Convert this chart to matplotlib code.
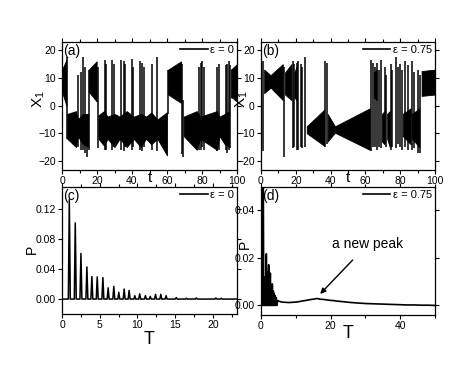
import matplotlib
matplotlib.use("Agg")
import matplotlib.pyplot as plt
from matplotlib.ticker import MultipleLocator

plt.rcParams['font.family'] = ['Liberation Sans', 'DejaVu Sans']
plt.rcParams['mathtext.fontset'] = 'custom'
plt.rcParams['mathtext.rm'] = 'Liberation Sans'
plt.rcParams['mathtext.it'] = 'Liberation Sans:italic'

# ---------------- data ----------------
# (a) eps = 0 : dense oscillation bands (t, lower, upper) and wing-switch spikes (t, low, high)
bands_a = [
    [(0.0, 5.0, 13.0), (2.5, 0.0, 16.5)],
    [(3.0, -12.0, -3.0), (8.0, -15.0, -2.0), (9.0, -11.0, -5.0), (12.0, -14.0, -3.0),
     (15.0, -15.0, -3.0)],
    [(15.3, 5.0, 13.0), (19.8, 1.5, 16.0)],
    [(20.8, -12.0, -3.5), (24.0, -14.5, -2.0), (26.0, -12.0, -4.0), (30.0, -15.0, -3.0),
     (33.0, -12.0, -4.0), (37.0, -15.0, -2.0), (41.0, -12.0, -4.0), (45.0, -15.0, -3.0),
     (48.0, -12.0, -4.0), (51.0, -14.0, -2.5), (54.5, -12.0, -5.0), (60.0, -18.0, -2.4)],
    [(60.6, 4.0, 13.0), (68.0, 1.0, 16.0)],
    [(69.5, -11.0, -4.0), (77.0, -16.0, -2.0), (79.0, -12.0, -4.0), (88.5, -16.0, -2.0),
     (90.0, -11.0, -4.0), (93.0, -14.0, -3.0), (95.5, -15.0, -2.0)],
    [(96.5, 3.0, 13.0), (100.0, 2.0, 15.0)],
]
spikes_a = [
    (2.8, -12, 17.5), (9.3, -15, 11), (10.7, -16, 12), (11.8, -16, 17.5),
    (13.3, -17, 14), (14.1, -18.5, -3), (15.2, -16, 13), (20.3, -15.5, 14),
    (24.5, -16, 16.5), (25.3, -16, 15), (28.8, -16, 16.5), (29.5, -15, 15),
    (33.8, -16, 16.5), (35.2, -16.5, 16), (36.2, -15, 15), (40.0, -16, 17),
    (40.8, -15, 14), (44.8, -16, 16), (45.8, -16.5, 15.5), (46.8, -15, 14),
    (51.5, -16, 15), (54.0, -16.5, 17.5), (60.3, -3, 13), (68.5, -17.5, 15),
    (69.0, -18.5, 2), (78.0, -16, 14), (79.2, -16, 15.5), (80.2, -15, 16),
    (81.0, -16, 14), (88.8, -16.5, 14), (89.5, -16, 15), (93.5, -16, 14.5),
    (94.3, -17, 15), (95.3, -16, 16), (96.2, -15.5, 14.5),
]

# (b) eps = 0.75
bands_b = [
    [(1.8, 4.5, 13.0), (5.5, 6.5, 11.0), (12.5, 2.0, 15.0)],
    [(13.8, 4.0, 12.0), (17.5, 2.0, 15.0)],
    [(19.2, 3.0, 12.0), (20.3, 2.0, 14.0)],
    [(26.3, -10.0, -7.5), (36.3, -14.5, -1.5)],
    [(38.3, -13.0, -3.0), (42.5, -9.8, -7.5), (62.5, -16.0, -1.0)],
    [(64.8, 3.0, 12.0), (66.5, 2.0, 13.0)],
    [(69.5, -13.0, -3.0), (71.0, -14.0, -2.0)],
    [(72.5, -12.0, -3.0), (74.0, -15.0, -2.0)],
    [(81.5, -11.0, -3.0), (86.0, -14.0, -1.0)],
    [(86.8, -12.0, -3.0), (91.0, -15.0, -1.0)],
    [(92.3, 3.5, 12.5), (100.0, 4.0, 13.0)],
]
spikes_b = [
    (1.0, -16.5, 16), (13.2, -18.5, 14), (18.3, -15.5, 16), (19.0, -15, 15),
    (20.5, -16, 15.5), (21.5, -16, 16), (22.8, -15, 15), (23.5, -15.5, 14),
    (25.3, -15, 17.5), (36.8, -15, 16), (37.8, -14, 15.5), (63.0, -16.5, 16.5),
    (64.5, -15, 15.5), (65.5, -15, 14), (66.8, -16, 15.5), (68.0, -15, 13),
    (69.2, -15.5, 16.5), (71.0, -14, 14), (72.0, -15, 11), (74.5, -16, 15),
    (75.5, -15, 13), (77.5, -15.5, 17.5), (78.5, -14, 14), (80.0, -15, 15),
    (81.0, -16, 13), (83.0, -15, 16), (84.2, -16, 14.5), (86.5, -16, 16),
    (88.0, -15.5, 12), (90.0, -17, 13), (91.5, -17, 11),
]

# (c) residence-time distribution peaks, eps = 0
T_c = [0.97, 1.76, 2.51, 3.3, 3.96, 4.67, 5.42, 6.12, 6.87, 7.53, 8.24, 8.9,
       9.65, 10.3, 11.06, 11.7, 12.4, 13.1, 13.8, 15.15, 16.5, 17.8, 20.4, 21.1]
P_c = [0.133, 0.102, 0.061, 0.043, 0.030, 0.0296, 0.0287, 0.015, 0.017, 0.009,
       0.0134, 0.0116, 0.0045, 0.007, 0.0045, 0.0036, 0.0063, 0.0063, 0.0045,
       0.002, 0.001, 0.0015, 0.0015, 0.001]

# (d) eps = 0.75: dense peaks at small T, then a broad hump
T_d_peaks = [0.35, 0.65, 1.1, 1.53, 1.85, 2.2, 2.45, 2.68, 3.0, 3.25, 3.55, 3.8, 4.1, 4.4]
P_d_peaks = [0.060, 0.055, 0.012, 0.0216, 0.014, 0.017, 0.010, 0.0135, 0.008,
             0.009, 0.006, 0.005, 0.004, 0.0032]
T_d = [4.8, 5.5, 6, 7, 8, 9, 10, 11, 12, 13, 14, 15, 16, 17, 18, 19, 20, 21, 22,
       24, 26, 28, 30, 32, 34, 36, 38, 40, 42, 44, 46, 48, 50]
P_d = [0.0020, 0.0016, 0.0014, 0.0013, 0.0012, 0.0013, 0.0014, 0.0016, 0.0019,
       0.0021, 0.0024, 0.0026, 0.0029, 0.0026, 0.0025, 0.0023, 0.0021, 0.0020,
       0.0018, 0.0015, 0.0012, 0.0010, 0.0008, 0.0007, 0.0006, 0.0005, 0.0004,
       0.0003, 0.0002, 0.0002, 0.0001, 0.0001, 0.0]

# ---------------- figure ----------------
fig = plt.figure(figsize=(4.74, 3.74), dpi=100)
W, H = 474.0, 374.0


def axes_px(l, r, t, b):
    return fig.add_axes([l / W, 1 - b / H, (r - l) / W, (b - t) / H])


ax_a = axes_px(62, 237, 42, 170)
ax_b = axes_px(261, 435, 42, 170)
ax_c = axes_px(62, 237, 187, 314)
ax_d = axes_px(261, 435, 187, 315)

TICKFS = 7.5


def style(ax):
    ax.tick_params(which='both', direction='out', top=True, right=True,
                   labelsize=TICKFS, width=0.8, pad=1.5)
    ax.tick_params(which='major', length=3)
    ax.tick_params(which='minor', length=2)
    for s in ax.spines.values():
        s.set_linewidth(0.9)


def draw_series(ax, bands, spikes):
    for band in bands:
        ts = [p[0] for p in band]
        lo = [p[1] for p in band]
        hi = [p[2] for p in band]
        ax.fill_between(ts, lo, hi, color='black', lw=0.6, edgecolor='black')
    ax.vlines([s[0] for s in spikes], [s[1] for s in spikes], [s[2] for s in spikes],
              color='black', lw=1.1)


def peak_line(Ts, Ps, w):
    xs, ys = [], []
    for T, P in zip(Ts, Ps):
        xs += [T - w, T, T + w]
        ys += [0.0, P, 0.0]
    return xs, ys


for ax, bands, spikes, lab, eps in [(ax_a, bands_a, spikes_a, '(a)', 'ε = 0'),
                                    (ax_b, bands_b, spikes_b, '(b)', 'ε = 0.75')]:
    draw_series(ax, bands, spikes)
    ax.plot([], [], color='black', lw=1.2, label=eps)
    ax.set_xlim(0, 100)
    ax.set_ylim(-23.3, 23)
    ax.set_xticks([0, 20, 40, 60, 80, 100])
    ax.xaxis.set_minor_locator(MultipleLocator(10))
    ax.set_yticks([-20, -10, 0, 10, 20])
    style(ax)
    ax.text(0.005, 0.985, lab, transform=ax.transAxes, ha='left', va='top', fontsize=10)
    ax.legend(loc='upper right', frameon=False, fontsize=8, handlelength=2.5,
              handletextpad=0.2, borderaxespad=0.1, borderpad=0.2)
    ax.set_xlabel('t', fontsize=11, va='center')
    ax.set_ylabel('X$_1$', fontsize=11, va='center')

ax_a.xaxis.set_label_coords(0.5, -0.065)
ax_b.xaxis.set_label_coords(0.5, -0.065)
ax_a.yaxis.set_label_coords(-0.13, 0.55)
ax_b.yaxis.set_label_coords(-0.108, 0.55)

# (c)
xc, yc = peak_line(T_c, P_c, 0.13)
xc = [0.0] + xc + [23.2]
yc = [0.0] + yc + [0.0]
ax_c.plot(xc, yc, color='black', lw=1.1)
ax_c.plot([], [], color='black', lw=1.2, label='ε = 0')
ax_c.set_xlim(0, 23.2)
ax_c.set_ylim(-0.02, 0.15)
ax_c.set_xticks([0, 5, 10, 15, 20])
ax_c.xaxis.set_minor_locator(MultipleLocator(2.5))
ax_c.set_yticks([0.0, 0.04, 0.08, 0.12])
ax_c.set_yticklabels(['0.00', '0.04', '0.08', '0.12'])
style(ax_c)
ax_c.text(0.005, 0.985, '(c)', transform=ax_c.transAxes, ha='left', va='top', fontsize=10)
ax_c.legend(loc='upper right', frameon=False, fontsize=8, handlelength=2.5,
            handletextpad=0.2, borderaxespad=0.1, borderpad=0.2)
ax_c.set_xlabel('T', fontsize=13, va='center')
ax_c.set_ylabel('P', fontsize=10, va='center')
ax_c.xaxis.set_label_coords(0.5, -0.197)
ax_c.yaxis.set_label_coords(-0.171, 0.51)

# (d)
xd, yd = peak_line(T_d_peaks, P_d_peaks, 0.14)
xd = [0.0] + xd + T_d
yd = [0.0] + yd + P_d
ax_d.plot(xd, yd, color='black', lw=1.2)
ax_d.plot([], [], color='black', lw=1.2, label='ε = 0.75')
ax_d.set_xlim(0, 50)
ax_d.set_ylim(-0.004, 0.0495)
ax_d.set_xticks([0, 20, 40])
ax_d.xaxis.set_minor_locator(MultipleLocator(10))
ax_d.set_yticks([0.0, 0.02, 0.04])
ax_d.set_yticklabels(['0.00', '0.02', '0.04'])
style(ax_d)
ax_d.text(0.005, 0.985, '(d)', transform=ax_d.transAxes, ha='left', va='top', fontsize=10)
ax_d.legend(loc='upper right', frameon=False, fontsize=8, handlelength=2.5,
            handletextpad=0.2, borderaxespad=0.1, borderpad=0.2)
ax_d.set_xlabel('T', fontsize=13, va='center')
ax_d.set_ylabel('P', fontsize=10, va='center')
ax_d.xaxis.set_label_coords(0.5, -0.148)
ax_d.yaxis.set_label_coords(-0.095, 0.55)
ax_d.annotate('a new peak', xy=(17.0, 0.0048), xytext=(30.7, 0.0256),
              ha='center', va='center', fontsize=10,
              arrowprops=dict(arrowstyle='-|>', color='black', lw=1.0,
                              shrinkA=6, shrinkB=0, mutation_scale=8))

fig.savefig('out.png', dpi=100)
